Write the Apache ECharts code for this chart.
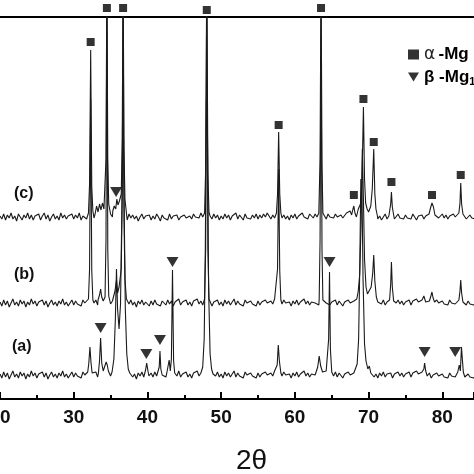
<!DOCTYPE html>
<html style="height: 100%">
<head>
    <meta charset="utf-8">
</head>
<body style="height: 100%; margin: 0; background: #fff">
<div id="container" style="width: 474px; height: 474px"></div>

<script type="text/javascript" src="https://cdn.jsdelivr.net/npm/echarts@6/dist/echarts.min.js"></script>
<script type="text/javascript">
    // sampling grid of the noisy background (deg 2theta)
    const angles = [
        20,20.25,20.5,20.75,21,21.25,21.5,21.75,22,22.25,22.5,22.75,23,23.25,23.5,23.75,24,24.25,24.5,24.75,
        25,25.25,25.5,25.75,26,26.25,26.5,26.75,27,27.25,27.5,27.75,28,28.25,28.5,28.75,29,29.25,29.5,29.75,
        30,30.25,30.5,30.75,31,31.25,31.5,31.75,32,32.25,32.5,32.75,33,33.25,33.5,33.75,34,34.25,34.5,34.75,
        35,35.25,35.5,35.75,36,36.25,36.5,36.75,37,37.25,37.5,37.75,38,38.25,38.5,38.75,39,39.25,39.5,39.75,
        40,40.25,40.5,40.75,41,41.25,41.5,41.75,42,42.25,42.5,42.75,43,43.25,43.5,43.75,44,44.25,44.5,44.75,
        45,45.25,45.5,45.75,46,46.25,46.5,46.75,47,47.25,47.5,47.75,48,48.25,48.5,48.75,49,49.25,49.5,49.75,
        50,50.25,50.5,50.75,51,51.25,51.5,51.75,52,52.25,52.5,52.75,53,53.25,53.5,53.75,54,54.25,54.5,54.75,
        55,55.25,55.5,55.75,56,56.25,56.5,56.75,57,57.25,57.5,57.75,58,58.25,58.5,58.75,59,59.25,59.5,59.75,
        60,60.25,60.5,60.75,61,61.25,61.5,61.75,62,62.25,62.5,62.75,63,63.25,63.5,63.75,64,64.25,64.5,64.75,
        65,65.25,65.5,65.75,66,66.25,66.5,66.75,67,67.25,67.5,67.75,68,68.25,68.5,68.75,69,69.25,69.5,69.75,
        70,70.25,70.5,70.75,71,71.25,71.5,71.75,72,72.25,72.5,72.75,73,73.25,73.5,73.75,74,74.25,74.5,74.75,
        75,75.25,75.5,75.75,76,76.25,76.5,76.75,77,77.25,77.5,77.75,78,78.25,78.5,78.75,79,79.25,79.5,79.75,
        80,80.25,80.5,80.75,81,81.25,81.5,81.75,82,82.25,82.5,82.75,83,83.25,83.5,83.75,84,84.25,84.5
    ];

    // background intensities (a.u.) of each pattern on the grid above
    const noiseC = [
        183,180,185,179,184,181,186,180,183,178,185,182,179,184,181,186,180,184,179,183,
        181,185,179,183,186,180,184,178,182,185,180,183,179,186,181,184,180,183,182,185,
        180,184,181,186,179,183,185,180,184,182,187,181,185,180,184,183,186,181,184,180,
        185,182,186,183,187,181,184,180,183,179,185,181,184,180,183,178,182,185,180,183,
        181,184,179,183,180,185,182,178,184,181,183,179,185,180,183,181,184,179,182,180,
        184,181,179,183,180,185,182,184,181,186,182,179,184,181,183,180,185,181,184,179,
        183,180,185,181,184,179,183,181,186,180,184,182,179,185,181,183,180,184,181,185,
        180,184,181,185,182,186,183,180,184,181,185,182,186,181,184,180,183,179,184,181,
        185,180,183,181,186,182,184,180,185,183,181,185,182,186,183,181,184,180,185,182,
        184,181,185,182,180,184,181,183,186,184,188,183,182,185,181,184,186,183,187,184,
        182,186,183,181,184,180,183,179,182,185,180,183,181,184,180,182,185,181,183,180,
        184,181,183,180,185,182,179,183,181,184,180,183,182,185,181,183,180,184,181,183,
        185,181,184,180,183,181,185,182,180,184,181,183,185,180,182,184,181,183,180
    ];
    const noiseB = [
        97,93,99,94,98,92,96,100,94,97,93,99,95,98,92,97,94,100,95,98,
        93,97,95,99,94,98,92,96,99,94,97,93,98,95,100,94,97,93,96,99,
        94,98,95,97,93,99,96,94,98,95,100,96,99,94,97,95,98,94,97,99,
        95,98,94,99,96,100,95,97,93,98,95,99,94,97,92,98,95,99,94,97,
        96,93,98,94,99,95,97,93,98,96,94,99,95,98,93,97,95,100,94,97,
        95,99,94,97,93,98,96,100,95,98,94,97,99,95,98,93,97,95,99,94,
        97,93,99,95,98,94,96,100,94,98,95,97,93,99,96,94,98,95,97,93,
        98,94,97,95,99,96,94,98,95,100,97,94,98,95,99,96,94,97,93,98,
        95,99,94,97,96,100,95,98,94,97,99,96,98,94,97,95,99,96,98,94,
        97,95,99,94,98,96,93,97,95,99,96,94,98,100,96,99,97,101,98,95,
        99,96,98,94,97,93,98,95,99,94,97,95,98,93,97,96,99,95,98,94,
        97,95,99,94,98,96,100,97,95,99,103,97,95,98,94,97,95,99,96,94,
        98,95,97,94,99,96,98,95,93,97,95,99,96,94,98,95,97,94,96
    ];
    const noiseA = [
        25,21,27,22,26,20,24,28,22,25,21,27,23,26,20,25,22,28,23,26,
        21,25,23,27,22,26,20,24,27,22,25,21,26,23,28,22,25,21,24,27,
        22,26,23,25,21,27,24,22,26,23,28,24,27,22,25,23,26,22,25,27,
        23,26,22,27,24,28,23,25,21,26,23,27,22,25,20,26,23,27,22,25,
        24,21,26,22,27,23,25,21,26,24,22,27,23,26,21,25,23,28,22,25,
        23,27,22,25,21,26,24,28,23,26,22,25,27,23,26,21,25,23,27,22,
        25,21,27,23,26,22,24,28,22,26,23,25,21,27,24,22,26,23,25,21,
        26,22,25,23,27,24,22,26,23,28,25,22,26,23,27,24,22,25,21,26,
        23,27,22,25,24,28,23,26,22,25,27,24,26,22,25,23,27,24,26,22,
        25,23,27,22,26,24,21,25,23,27,24,22,26,28,24,27,25,29,26,23,
        27,24,26,22,25,21,26,23,27,22,25,23,26,21,25,24,27,23,26,22,
        25,23,27,22,26,24,28,25,23,27,25,22,24,26,21,24,22,26,23,21,
        25,22,24,21,26,23,25,22,20,24,22,26,23,21,25,22,24,21,23
    ];

    // diffraction peaks [2theta, intensity], one group per reflection cluster
    const peaksC = [
        [[32.0,186],[32.15,215],[32.3,349],[32.45,212],[32.6,188]],
        [[32.9,185],[33.1,193],[33.3,187],[33.5,195],[33.7,189],[33.9,196],[34.1,190]],
        [[34.25,192],[34.38,240],[34.5,430],[34.62,240],[34.75,195]],
        [[35.3,188],[35.5,193],[35.7,190],[35.85,200],[36.0,194],[36.2,198],[36.45,205],[36.58,260],[36.7,430],[36.82,250],[36.95,200],[37.15,186]],
        [[47.75,186],[47.9,230],[48.05,430],[48.2,225],[48.35,187]],
        [[57.5,186],[57.65,205],[57.8,267],[57.95,205],[58.1,186]],
        [[63.3,187],[63.42,240],[63.55,430],[63.68,235],[63.8,186]],
        [[67.7,184],[67.85,189],[68.0,193],[68.15,186],[68.35,182],[68.6,190],[68.9,195],[69.1,215],[69.3,292],[69.45,220],[69.6,196],[69.8,190],[70.0,187],[70.3,193],[70.5,210],[70.7,250],[70.85,205],[71.0,190],[71.2,183]],
        [[72.85,185],[73.0,195],[73.1,207],[73.22,192],[73.4,184]],
        [[78.2,185],[78.4,191],[78.6,196],[78.8,192],[79.0,184]],
        [[82.25,186],[82.4,196],[82.5,216],[82.62,195],[82.8,185]]
    ];
    const peaksB = [
        [[32.0,100],[32.15,130],[32.3,300],[32.45,128],[32.6,99]],
        [[33.3,99],[33.5,104],[33.65,110],[33.8,102],[34.0,98]],
        [[34.25,102],[34.38,160],[34.5,430],[34.62,150],[34.75,103]],
        [[35.4,100],[35.6,108],[35.8,119],[35.95,106],[36.15,112],[36.45,130],[36.58,200],[36.7,430],[36.82,180],[36.95,120],[37.15,100]],
        [[47.75,100],[47.9,150],[48.05,430],[48.2,150],[48.35,100]],
        [[57.5,100],[57.65,130],[57.8,230],[57.95,128],[58.1,99]],
        [[63.3,100],[63.42,160],[63.55,380],[63.68,150],[63.8,99]],
        [[68.4,100],[68.6,108],[68.8,125],[69.0,180],[69.15,250],[69.3,200],[69.45,140],[69.65,112],[69.85,105],[70.1,104],[70.35,112],[70.55,125],[70.7,144],[70.85,118],[71.05,102],[71.25,97]],
        [[72.85,99],[73.0,115],[73.1,137],[73.22,112],[73.4,98]],
        [[78.3,98],[78.45,103],[78.6,107],[78.75,101],[78.95,97]],
        [[82.25,99],[82.4,108],[82.5,119],[82.62,106],[82.8,97]]
    ];
    const peaksA = [
        [[31.9,27],[32.05,36],[32.2,52],[32.35,36],[32.5,26]],
        [[33.35,26],[33.5,38],[33.65,61],[33.8,36],[34.0,28],[34.2,30],[34.4,37],[34.55,34],[34.7,28]],
        [[35.2,27],[35.45,40],[35.65,80],[35.8,130],[35.95,90],[36.15,70],[36.35,95],[36.55,200],[36.7,300],[36.85,190],[37.0,90],[37.2,45],[37.4,30],[37.6,26]],
        [[39.6,24],[39.75,29],[39.9,36],[40.05,29],[40.2,23]],
        [[41.45,25],[41.6,32],[41.7,48],[41.82,30],[42.0,24]],
        [[42.6,25],[42.8,33],[42.95,39],[43.1,28],[43.25,40],[43.4,129],[43.55,38],[43.7,26]],
        [[47.3,26],[47.5,32],[47.7,60],[47.85,150],[48.0,300],[48.15,260],[48.3,110],[48.5,45],[48.7,30],[48.9,25]],
        [[57.45,26],[57.6,34],[57.75,54],[57.9,38],[58.1,26]],
        [[62.9,25],[63.1,32],[63.3,43],[63.5,33],[63.75,27],[64.0,25],[64.25,28],[64.45,30],[64.58,60],[64.7,127],[64.82,50],[65.0,27]],
        [[68.2,27],[68.45,35],[68.65,60],[68.8,130],[68.95,220],[69.1,210],[69.25,120],[69.45,55],[69.65,38],[69.9,30],[70.1,33],[70.3,26]],
        [[77.35,25],[77.5,30],[77.6,36],[77.75,28],[77.95,23]],
        [[81.9,24],[82.1,27],[82.3,34],[82.45,28],[82.6,52],[82.72,40],[82.85,27],[83.05,22]]
    ];

    // phase markers
    const alphaX = [32.3, 34.5, 36.7, 48.05, 57.8, 63.55, 68.0, 69.3, 70.7, 73.1, 78.6, 82.5];
    const alphaY = [357, 391, 391, 389, 274, 391, 204, 300, 257, 217, 204, 224];
    const betaX = [33.65, 35.75, 39.85, 41.7, 43.4, 64.7, 77.6, 81.75];
    const betaY = [71, 207, 45, 59, 137, 137, 47, 47];

    const xTicks = [20, 30, 40, 50, 60, 70, 80];

    function buildTrace(noise, peaks) {
        let pts = [];
        for (let i = 0; i < angles.length; i++) {
            let x = angles[i];
            let covered = peaks.some(function (g) {
                return x >= g[0][0] && x <= g[g.length - 1][0];
            });
            if (!covered) pts.push([x, noise[i]]);
        }
        peaks.forEach(function (g) {
            g.forEach(function (p) { pts.push(p); });
        });
        pts.sort(function (a, b) { return a[0] - b[0]; });
        return pts;
    }

    function zip(xs, ys) {
        return xs.map(function (x, i) { return [x, ys[i]]; });
    }

    var dom = document.getElementById("container");
    var myChart = echarts.init(dom);
    var option;

    var lineStyle = {color: '#1a1a1a', width: 1.1};
    var tickFont = {fontSize: 19, fontWeight: 'bold', fontFamily: 'Liberation Sans'};

    option = {
        animation: false,
        grid: {left: 0, right: 0, top: 17, bottom: 75},
        xAxis: [
            {
                type: 'value',
                min: 20,
                max: 84.3,
                interval: 10,
                axisLine: {lineStyle: {color: '#000', width: 2}},
                axisTick: {inside: true, length: 7, lineStyle: {color: '#000', width: 2}},
                minorTick: {show: true, splitNumber: 2, length: 4, lineStyle: {color: '#000', width: 2}},
                splitLine: {show: false},
                axisLabel: {
                    margin: 9,
                    color: '#111',
                    fontSize: tickFont.fontSize,
                    fontWeight: tickFont.fontWeight,
                    fontFamily: tickFont.fontFamily,
                    showMinLabel: false,
                    showMaxLabel: false,
                    formatter: function (v) {
                        return xTicks.indexOf(v) >= 0 ? String(v) : '';
                    }
                }
            },
            {
                type: 'value',
                position: 'top',
                min: 20,
                max: 84.3,
                axisLine: {lineStyle: {color: '#000', width: 2}},
                axisTick: {show: false},
                axisLabel: {show: false},
                splitLine: {show: false}
            }
        ],
        yAxis: {
            type: 'value',
            min: 0,
            max: 382,
            show: false
        },
        legend: {
            orient: 'vertical',
            left: 403,
            top: 41,
            itemGap: 5,
            itemWidth: 11,
            itemHeight: 10,
            data: [
                {name: 'alpha', icon: 'rect', itemStyle: {color: '#000'}},
                {name: 'beta', icon: 'path://M0,0 L12,0 L6,10 Z', itemStyle: {color: '#000'}}
            ],
            formatter: function (name) {
                return name === 'alpha' ? '{l|α} {b|-Mg}' : '{b|β -Mg}{s|17}{b|Al}{s|12}';
            },
            textStyle: {
                color: '#000',
                rich: {
                    l: {fontSize: 17, fontFamily: 'DejaVu Sans', fontWeight: 'normal', color: '#222', lineHeight: 20},
                    b: {fontSize: 17, fontFamily: 'Liberation Sans', fontWeight: 'bold', lineHeight: 20},
                    s: {fontSize: 11, fontFamily: 'Liberation Sans', fontWeight: 'bold', lineHeight: 20, verticalAlign: 'bottom', padding: [8, 0, 0, 0]}
                }
            }
        },
        graphic: [
            // the first tick label sits on the cropped left edge, half of it falls outside
            {type: 'text', x: 0, y: 408, style: {text: String(xTicks[0]), align: 'center', font: 'bold 19px "Liberation Sans"', fill: '#111'}},
            {type: 'text', left: 14, top: 186, style: {text: '(c)', font: 'bold 16px "Liberation Sans"', fill: '#111'}},
            {type: 'text', left: 14, top: 267, style: {text: '(b)', font: 'bold 16px "Liberation Sans"', fill: '#111'}},
            {type: 'text', left: 12, top: 339, style: {text: '(a)', font: 'bold 16px "Liberation Sans"', fill: '#111'}},
            {type: 'text', left: 236, top: 447, style: {text: '2θ', font: '28px "Liberation Sans"', fill: '#111'}}
        ],
        series: [
            {name: 'c', type: 'line', showSymbol: false, lineStyle: lineStyle, data: buildTrace(noiseC, peaksC)},
            {name: 'b', type: 'line', showSymbol: false, lineStyle: lineStyle, data: buildTrace(noiseB, peaksB)},
            {name: 'a', type: 'line', showSymbol: false, lineStyle: lineStyle, data: buildTrace(noiseA, peaksA)},
            {
                name: 'alpha', type: 'scatter', symbol: 'rect', symbolSize: 8, clip: false,
                itemStyle: {color: '#000'}, data: zip(alphaX, alphaY)
            },
            {
                name: 'beta', type: 'scatter', symbol: 'triangle', symbolRotate: 180, symbolSize: [12, 10], clip: false,
                itemStyle: {color: '#000'}, data: zip(betaX, betaY)
            }
        ]
    };

    if (option && typeof option === 'object') {
        myChart.setOption(option);
    }
</script>
</body>
</html>
